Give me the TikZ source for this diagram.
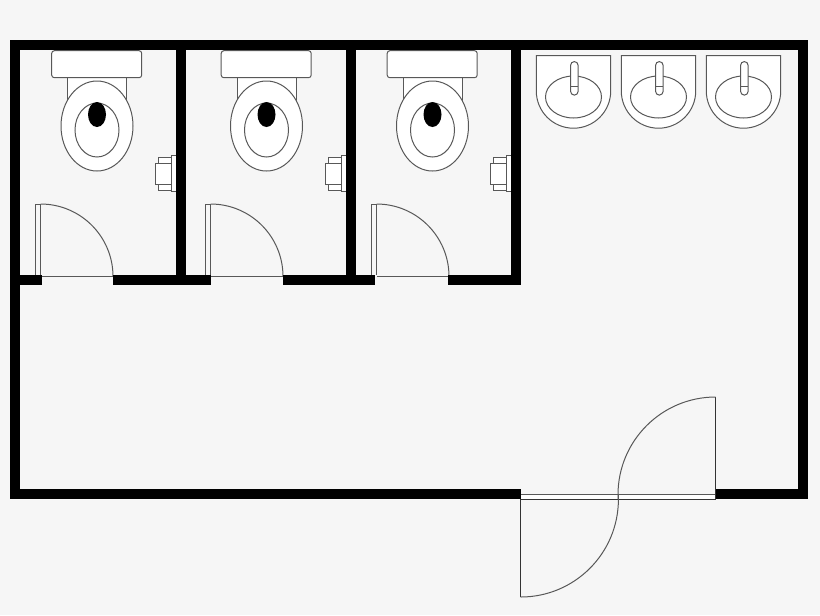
\documentclass[tikz,border=0pt]{standalone}
\definecolor{floorgrey}{HTML}{F6F6F6}
\definecolor{linegrey}{HTML}{585858}
\begin{document}
\begin{tikzpicture}[
                        x=0.75pt,y=-0.75pt,
                        wall/.style={line width=7.5pt,black},
                        fixture/.style={draw=linegrey,fill=white,line width=0.75pt},
                        swing/.style={draw=linegrey,line width=0.75pt},
                        frame/.style={draw=black!80,line width=0.7pt}
                    ]
                    % Floor
                    \fill [floorgrey] (0,0) rectangle (820,615);
                    \useasboundingbox (0,0) rectangle (820,615);

                    % Cubicles
                    \foreach \xoff/\doff/\hoff in {0/0/0,169.5/170/170,335.5/336/335}{
                        \begin{scope}[shift={(\xoff,0)}]
                            \draw [fixture] (67.5,75) rectangle (126.5,105);
                            \draw [fixture,rounded corners=2pt] (51.7,50.7) rectangle (141.7,77.7);
                            \draw [fixture] (97,126) ellipse [x radius=36,y radius=45];
                            \draw [fixture] (97,130) ellipse [x radius=22,y radius=27];
                            \fill [black] (97,114.5) ellipse [x radius=9,y radius=12.5];
                        \end{scope}
                        \begin{scope}[shift={(\hoff,0)}]
                            \draw [fixture] (171.7,155) rectangle (177,191.7);
                            \draw [fixture] (158.5,157) rectangle (171.7,190);
                            \draw [fixture] (155.7,163) rectangle (171.7,184);
                        \end{scope}
                        \begin{scope}[shift={(\doff,0)}]
                            \draw [swing] (35.5,275) -- (35.5,204) -- (40.5,204) -- (40.5,275);
                            \draw [swing] (40.5,204) arc [start angle=270,end angle=360,radius=72.5];
                            \draw [swing] (41,276.5) -- (113,276.5);
                        \end{scope}
                    }

                    % Sinks
                    \foreach \xoff in {0,85,170}{
                        \begin{scope}[shift={(\xoff,0)}]
                            \draw [fixture] (536.3,55.7) -- (610.7,55.7) -- (610.7,91)
                                arc [start angle=0,end angle=180,radius=37.2] -- cycle;
                            \draw [fixture] (573.5,97) ellipse [x radius=28,y radius=21];
                            \draw [fixture,rounded corners=2.5pt] (570.7,61.7) rectangle (578,95);
                            \draw [swing] (570.7,86) -- (578,86);
                        \end{scope}
                    }

                    % Walls
                    \draw [wall] (520.7,494.4) -- (15,494.4) -- (15,45) -- (803,45) -- (803,494.4) -- (715.7,494.4);
                    \draw [wall] (181,45) -- (181,285);
                    \draw [wall] (351,45) -- (351,285);
                    \draw [wall] (516,45) -- (516,285);
                    \draw [wall] (20,280) -- (42,280);
                    \draw [wall] (113,280) -- (211,280);
                    \draw [wall] (283,280) -- (375,280);
                    \draw [wall] (448,280) -- (521,280);

                    % Entrance
                    \fill [white] (520.7,494.5) rectangle (715.7,499);
                    \draw [swing] (520.7,494.5) -- (715.7,494.5);
                    \draw [frame] (520.7,499) -- (715.7,499);
                    \draw [frame] (715.7,499) -- (715.7,397);
                    \draw [frame] (520.7,499) -- (520.7,597);
                    \draw [swing] (715.7,397) arc [start angle=270,end angle=180,radius=97.7] -- (618,499);
                    \draw [swing] (520.7,597) arc [start angle=90,end angle=0,radius=97.7] -- (618.4,494.5);
                \end{tikzpicture}
\end{document}
